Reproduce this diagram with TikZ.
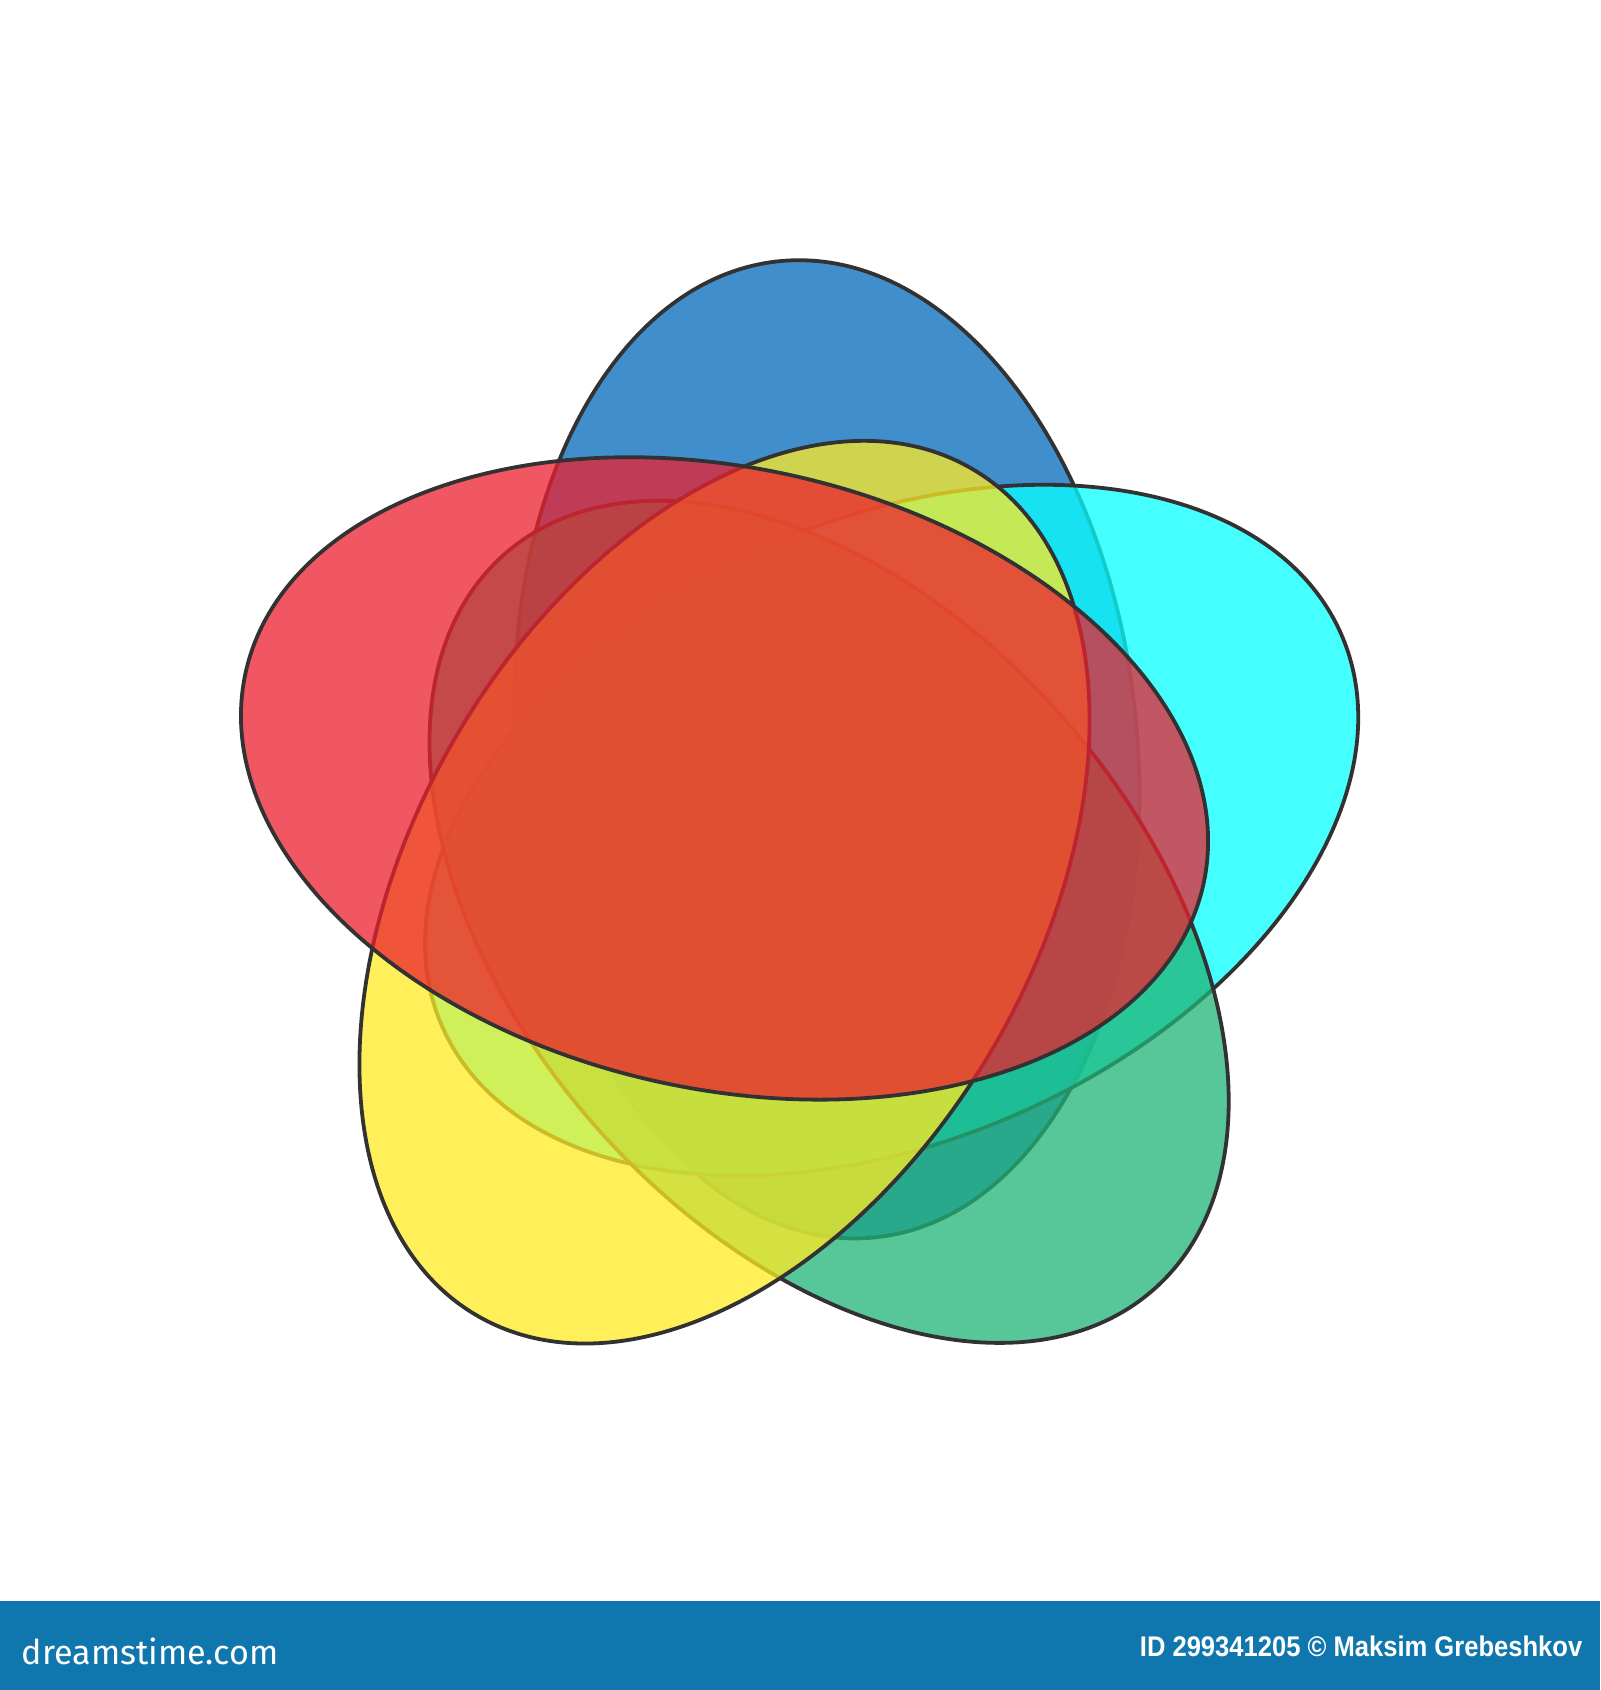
\documentclass[tikz,border=0pt]{standalone}
\usepackage{fontspec}
\setmainfont{Liberation Sans}
\newfontfamily\sitefont{Fira Sans}
\begin{document}
\begin{tikzpicture}[x=0.02cm,y=0.02cm]
\definecolor{cBlue}{RGB}{0,106,188}
\definecolor{cCyan}{RGB}{8,255,255}
\definecolor{cGreen}{RGB}{32,179,118}
\definecolor{cYellow}{RGB}{255,235,35}
\definecolor{cRed}{RGB}{235,32,46}
\definecolor{cEdge}{RGB}{50,50,50}
\definecolor{cBanner}{RGB}{16,119,174}
\tikzset{
  petal/.style={draw=cEdge, line width=2pt, fill opacity=0.75, draw opacity=1},
  bannertext/.style={text=white, inner sep=0pt}
}
\useasboundingbox (0,0) rectangle (1484.2,-1567.5);
\fill[white] (0,0) rectangle (1484.2,-1567.5);
% petals, bottom to top
\begin{scope}[shift={(767,-695)},rotate=95.5]
  \filldraw[petal,fill=cBlue] (0,0) ellipse [x radius=9.1cm,y radius=5.76cm];
\end{scope}
\begin{scope}[shift={(827,-770)},rotate=23.5]
  \filldraw[petal,fill=cCyan] (0,0) ellipse [x radius=9.1cm,y radius=5.76cm];
\end{scope}
\begin{scope}[shift={(769,-855)},rotate=-48.5]
  \filldraw[petal,fill=cGreen] (0,0) ellipse [x radius=9.1cm,y radius=5.76cm];
\end{scope}
\begin{scope}[shift={(672,-827.5)},rotate=239.6]
  \filldraw[petal,fill=cYellow] (0,0) ellipse [x radius=9.1cm,y radius=5.76cm];
\end{scope}
\begin{scope}[shift={(672,-722)},rotate=167.5]
  \filldraw[petal,fill=cRed] (0,0) ellipse [x radius=9.1cm,y radius=5.76cm];
\end{scope}
% banner
\fill[cBanner] (0,-1484.5) rectangle (1484.2,-1567.5);
\node[bannertext, anchor=west, font=\sitefont\fontsize{18}{20}\selectfont] (site) at (20,-1532) {dreamstime.com};
\node[bannertext, anchor=east, font=\bfseries\fontsize{15}{17}\selectfont] (credit) at (1468,-1527) {\scalebox{0.9}[1]{ID 299341205 © Maksim Grebeshkov}};
\end{tikzpicture}
\end{document}
